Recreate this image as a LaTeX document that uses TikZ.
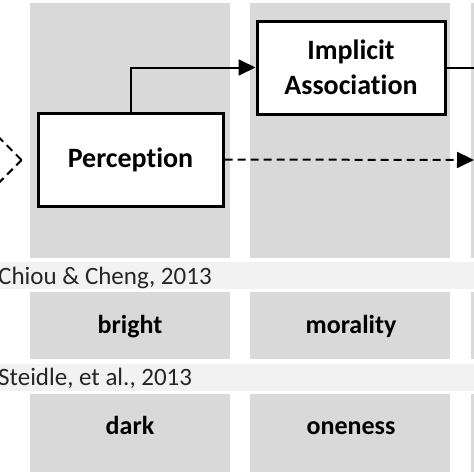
\documentclass[tikz,border=0pt]{standalone}
\usepackage{fontspec}
\setmainfont{Carlito}[Ligatures=NoCommon]
\usetikzlibrary{arrows.meta,shapes.geometric}
\definecolor{colgray}{HTML}{D9D9D9}
\definecolor{bandgray}{HTML}{F2F2F2}
\definecolor{txtgray}{HTML}{262626}
\tikzset{
  stage/.style={draw, line width=3pt, fill=white, align=center,
    font=\bfseries\fontsize{28}{35}\selectfont},
  cue/.style={anchor=base, font=\bfseries\fontsize{26}{30}\selectfont},
  study/.style={anchor=base west, inner sep=0pt, text=txtgray,
    font=\fontsize{25}{30}\selectfont},
  link/.style={line width=2pt, -{Triangle[length=17pt,width=16pt]}},
  dashline/.style={dash pattern=on 8pt off 5pt},
}
\begin{document}
\begin{tikzpicture}[x=1pt,y=-1pt]
  \useasboundingbox (0,0) rectangle (474,474);
  \clip (0,0) rectangle (474,474);

  % columns and cells
  \foreach \x in {30,250,471} {
    \fill[colgray] (\x,3) rectangle ++(200,255);
    \fill[colgray] (\x,292) rectangle ++(200,67);
    \fill[colgray] (\x,394) rectangle ++(200,78);
  }
  % study bands
  \fill[bandgray] (0,262) rectangle (474,289);
  \fill[bandgray] (0,364) rectangle (474,391);

  \node[diamond, draw, dashline, line width=2pt, minimum width=100pt,
        minimum height=100pt] (D) at (-28,160) {};
  \node[stage, minimum width=185pt, minimum height=93pt] (P) at (130.5,159.5) {Perception};
  \node[stage, minimum width=188pt, minimum height=93pt] (IA) at (351,67.5) {Implicit\\Association};

  \coordinate (nxt) at (480,67.5);
  \coordinate (out) at (474,160);

  \draw[link] (P.north) |- (IA.west);
  \draw[line width=2pt] (IA.east) -- (nxt);
  \draw[link, dashline] (P.east) -- (out);

  \node[study] (S1) at (-2,284) {Chiou \& Cheng, 2013};
  \node[study] (S2) at (-2,385) {Steidle, et al., 2013};

  \node[cue] (B) at (130,333) {bright};
  \node[cue] (M) at (351,333) {morality};
  \node[cue] (K) at (130,434) {dark};
  \node[cue] (O) at (351,434) {oneness};
\end{tikzpicture}
\end{document}
